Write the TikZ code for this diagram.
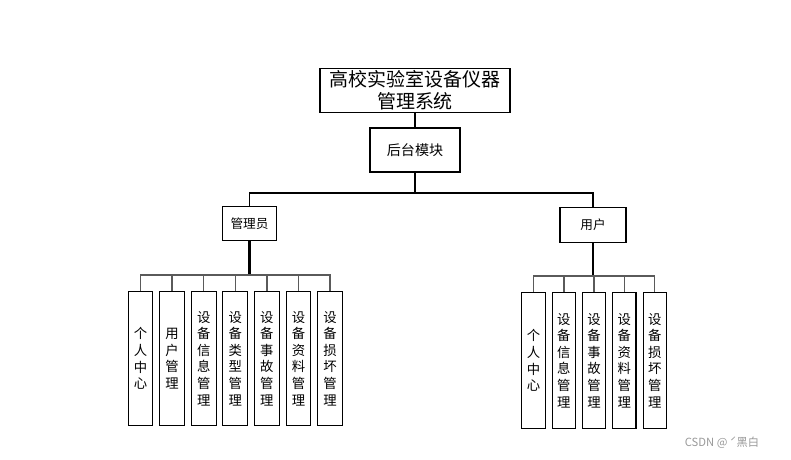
\documentclass[tikz,border=0pt]{standalone}
\usepackage{fontspec}
\setmainfont{Noto Sans CJK SC}
\usetikzlibrary{positioning}
\definecolor{linegray}{RGB}{90, 90, 90}
\begin{document}
\begin{tikzpicture}[x=0.025cm, y=-0.025cm,
  box/.style={draw, line width=0.8pt, fill=white, inner sep=0pt, align=center},
  leaf/.style={box, minimum width=0.62cm, minimum height=3.34cm,
    font={\fontsize{9.5}{11.8}\selectfont}},
  bus/.style={draw, linegray, line width=1pt},
  trunk/.style={draw, black, line width=1.5pt}]
  \useasboundingbox (0,0) rectangle (791,460);
  % top levels
  \node[box, minimum width=4.75cm, minimum height=1.12cm,
        font={\fontsize{13.5}{15.6}\selectfont}] (sys) at (415,90.5)
        {高校实验室设备仪器\\管理系统};
  \node[box, minimum width=2.25cm, minimum height=1.1cm,
        font={\fontsize{10}{12}\selectfont}] (back) at (415,150) {后台模块};
  \coordinate (topbus) at (415,193);
  \node[box, minimum width=1.35cm, minimum height=0.86cm,
        font={\fontsize{9}{11}\selectfont}] (admin) at (249.5,223.5) {管理员};
  \node[box, minimum width=1.65cm, minimum height=0.86cm,
        font={\fontsize{9}{11}\selectfont}] (user) at (593,225) {用户};
  \draw[line width=0.8pt] (sys) -- (back);
  \draw[line width=1pt] (back) -- (topbus);
  \draw[line width=1pt] (topbus) -| (admin);
  \draw[line width=1pt] (topbus) -| (user);
  % admin modules
  \coordinate (adminbus) at (249.5,275);
  \draw[trunk] (admin) -- (adminbus);
  \foreach \t [count=\i] in {个\\人\\中\\心, 用\\户\\管\\理, 设\\备\\信\\息\\管\\理,
      设\\备\\类\\型\\管\\理, 设\\备\\事\\故\\管\\理, 设\\备\\资\\料\\管\\理,
      设\\备\\损\\坏\\管\\理}{
    \node[leaf] (adm\i) at ({140.5+(\i-1)*31.6},358.5) {\t};
    \draw[bus] (adminbus) -| (adm\i.north);
  }
  % user modules
  \coordinate (userbus) at (593,276);
  \draw[trunk] (user) -- (userbus);
  \foreach \t [count=\i] in {个\\人\\中\\心, 设\\备\\信\\息\\管\\理,
      设\\备\\事\\故\\管\\理, 设\\备\\资\\料\\管\\理, 设\\备\\损\\坏\\管\\理}{
    \node[leaf, minimum width=0.58cm, minimum height=3.38cm] (usr\i)
          at ({533.5+(\i-1)*30.3},360.5) {\t};
    \draw[bus] (userbus) -| (usr\i.north);
  }
  \node[text=gray!80, font={\fontsize{8}{10}\selectfont}] (mark) at (722,443)
        {CSDN @ ˊ黑白};
\end{tikzpicture}
\end{document}
